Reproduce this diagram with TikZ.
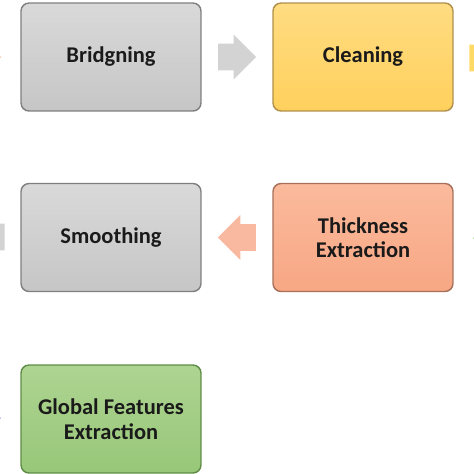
\documentclass[tikz,border=0pt]{standalone}
\usepackage{fontspec}
\setmainfont{Carlito}
\usepackage{tikz}
\usetikzlibrary{calc}
\usetikzlibrary{shapes.arrows}
\usepackage{xcolor}
\definecolor{textblack}{HTML}{1A1A1A}
\definecolor{grayTop}{HTML}{D9D9D9}
\definecolor{grayBot}{HTML}{C6C6C6}
\definecolor{grayLine}{HTML}{7F7F7F}
\definecolor{yellowTop}{HTML}{FFDC82}
\definecolor{yellowBot}{HTML}{FFD05C}
\definecolor{yellowLine}{HTML}{B0904A}
\definecolor{salmonTop}{HTML}{FBBA9C}
\definecolor{salmonBot}{HTML}{F7A784}
\definecolor{salmonLine}{HTML}{A8705A}
\definecolor{greenTop}{HTML}{AED491}
\definecolor{greenBot}{HTML}{97C779}
\definecolor{greenLine}{HTML}{5E8C45}
\definecolor{arrowGray}{HTML}{D3D3D3}
\definecolor{arrowSalmon}{HTML}{F9B9A0}
\definecolor{arrowYellow}{HTML}{FFD966}
\definecolor{arrowGreen}{HTML}{A9D18E}
\definecolor{arrowPurple}{HTML}{B4A7D6}

\begin{document}
\begin{tikzpicture}[x=0.02cm,y=-0.02cm,
  stage/.style={draw, line width=0.8pt, rounded corners=0.16cm,
    minimum width=3.6cm, minimum height=2.16cm, align=center,
    font=\fontsize{12.8}{14}\selectfont\bfseries, text=textblack},
  flow/.style={single arrow, draw=none, minimum height=0.76cm,
    inner xsep=0pt, inner ysep=0.26cm, single arrow head extend=0.18cm}]
  \useasboundingbox (0,0) rectangle (474,474);
  \clip (0,0) rectangle (474,474);
  % stages
  \coordinate (pBrid) at (111,57);
  \coordinate (pClean) at (363,57);
  \coordinate (pSmooth) at (111,237.5);
  \coordinate (pThick) at (363,237.5);
  \coordinate (pGlobal) at (111,419);
  \node[stage, draw=grayLine, top color=grayTop, bottom color=grayBot] (brid) at (pBrid) {Bridgning};
  \node[stage, draw=yellowLine, top color=yellowTop, bottom color=yellowBot] (clean) at (pClean) {Cleaning};
  \node[stage, draw=grayLine, top color=grayTop, bottom color=grayBot] (smooth) at (pSmooth) {Smoothing};
  \node[stage, draw=salmonLine, top color=salmonTop, bottom color=salmonBot] (thick) at (pThick) {Thickness\\Extraction};
  \node[stage, draw=greenLine, top color=greenTop, bottom color=greenBot] (global) at (pGlobal) {Global Features\\Extraction};
  % block arrows
  \node[flow, fill=arrowGray, anchor=tail] (bridClean) at ($(brid.east)+(16,0)$) {};
  \node[flow, fill=arrowSalmon, shape border rotate=180, anchor=tail] (thickSmooth) at ($(thick.west)+(-16,0)$) {};
  % arrows cut by the border
  \node[flow, fill=arrowSalmon, anchor=tip] (inBrid) at (1.5,57) {};
  \node[flow, fill=arrowYellow, anchor=tail] (outClean) at (469,58) {};
  \node[flow, fill=arrowGreen, shape border rotate=180, anchor=tip] (inThick) at (472.5,238) {};
  \node[flow, fill=arrowGray, shape border rotate=180, anchor=tail] (outSmooth) at (5,237) {};
  \node[flow, fill=arrowPurple, anchor=tip] (inGlobal) at (1.5,418) {};
\end{tikzpicture}
\end{document}
